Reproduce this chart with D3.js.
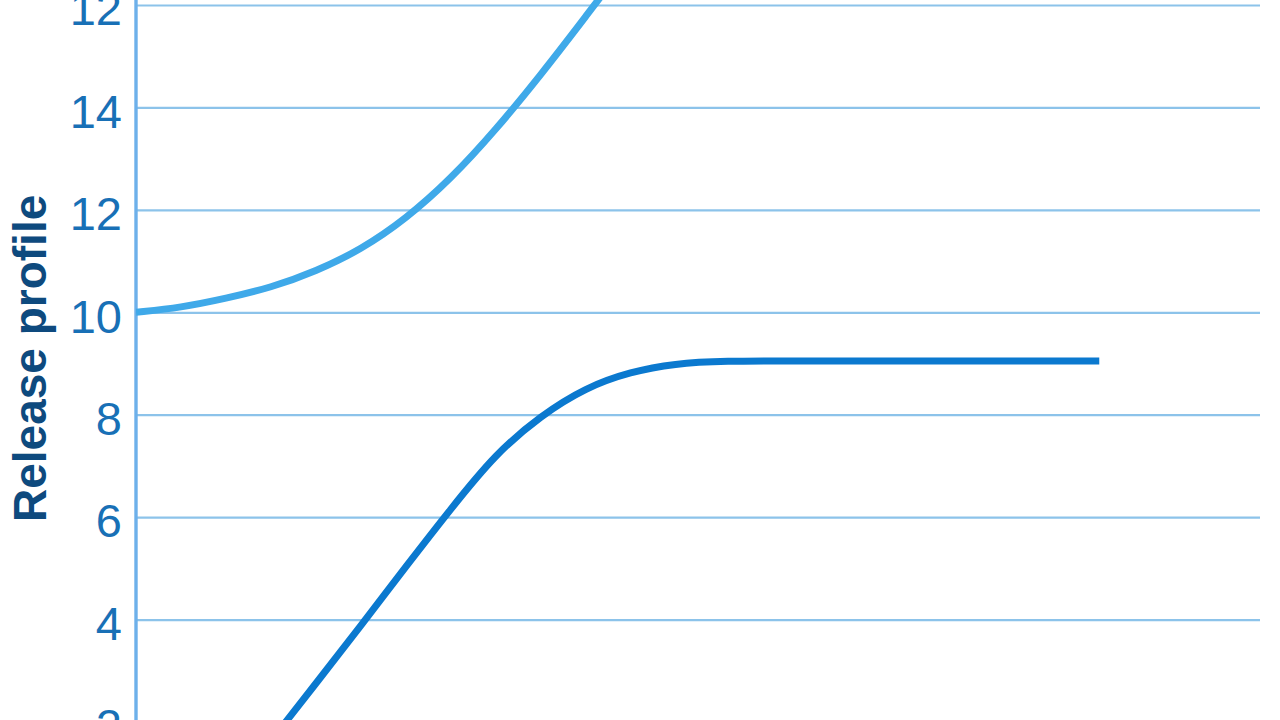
<!DOCTYPE html>
<html>
<head>
<meta charset="utf-8">
<script src="https://cdn.jsdelivr.net/npm/d3@7/dist/d3.min.js"></script>
<style>
  html, body { margin: 0; padding: 0; background: #ffffff; }
  svg { display: block; }
</style>
</head>
<body>
<svg id="chart" width="1280" height="720"></svg>
<script>
// ---- Data ----
const yTickValues = [2, 4, 6, 8, 10, 12, 14, 16];
const yTickLabels = ["2", "4", "6", "8", "10", "12", "14", "12"];
const yAxisTitle = "Release profile";

const timeUpper = [0, 4, 8, 12, 16, 20, 24, 28, 32, 36, 40, 44];
const releaseUpper = [10.0, 10.09, 10.27, 10.48, 10.8, 11.22, 11.82, 12.6, 13.56, 14.63, 15.77, 16.93];

const timeLower = [12, 16, 20, 24, 28, 32, 36, 40, 44, 48, 52, 60, 70, 85.7];
const releaseLower = [1.63, 2.75, 3.88, 5.03, 6.16, 7.24, 7.98, 8.53, 8.84, 9.0, 9.05, 9.05, 9.05, 9.05];

// ---- Layout ----
const W = 1280, H = 720;
const left = 136, right = 1260;
const svg = d3.select("#chart");

const x = d3.scaleLinear().domain([0, 100]).range([left, right]);
const y = d3.scaleLinear().domain([2, 16]).range([722, 5]);

// grid lines
const grid = d3.axisLeft(y)
  .tickValues(yTickValues)
  .tickSize(-(right - left))
  .tickFormat("");
const gGrid = svg.append("g")
  .attr("transform", `translate(${left},0)`)
  .call(grid);
gGrid.select(".domain").remove();
gGrid.selectAll(".tick line")
  .attr("stroke", "#8cc3ea")
  .attr("stroke-width", 2.2);

// tick labels
const labelAxis = d3.axisLeft(y)
  .tickValues(yTickValues)
  .tickSize(0)
  .tickPadding(14)
  .tickFormat((d, i) => yTickLabels[i]);
const gLab = svg.append("g")
  .attr("transform", `translate(${left},0)`)
  .call(labelAxis);
gLab.select(".domain").remove();
gLab.selectAll(".tick text")
  .attr("font-family", "Liberation Sans, Arial, sans-serif")
  .attr("font-size", 47)
  .attr("fill", "#1870b6")
  .attr("dy", "0.42em");

// vertical axis line
svg.append("line")
  .attr("x1", left).attr("x2", left)
  .attr("y1", 0).attr("y2", H)
  .attr("stroke", "#6db0ea")
  .attr("stroke-width", 3.4);

// clip region for series
svg.append("clipPath").attr("id", "plotclip")
  .append("rect").attr("x", left).attr("y", 0)
  .attr("width", right - left).attr("height", H);

const line = d3.line()
  .x(d => x(d[0]))
  .y(d => y(d[1]))
  .curve(d3.curveBasis);

const upper = timeUpper.map((t, i) => [t, releaseUpper[i]]);
const lower = timeLower.map((t, i) => [t, releaseLower[i]]);

const gSeries = svg.append("g").attr("clip-path", "url(#plotclip)");
gSeries.append("path")
  .datum(upper)
  .attr("d", line)
  .attr("fill", "none")
  .attr("stroke", "#3fa9e9")
  .attr("stroke-width", 7)
  .attr("stroke-linecap", "butt");

gSeries.append("path")
  .datum(lower)
  .attr("d", line)
  .attr("fill", "none")
  .attr("stroke", "#0b79cf")
  .attr("stroke-width", 7)
  .attr("stroke-linecap", "butt");

// y-axis title
svg.append("text")
  .attr("transform", "translate(46,522) rotate(-90)")
  .attr("text-anchor", "start")
  .attr("font-family", "Liberation Sans, Arial, sans-serif")
  .attr("font-weight", "bold")
  .attr("font-size", 46)
  .attr("fill", "#0e4a7e")
  .text(yAxisTitle);
</script>
</body>
</html>
